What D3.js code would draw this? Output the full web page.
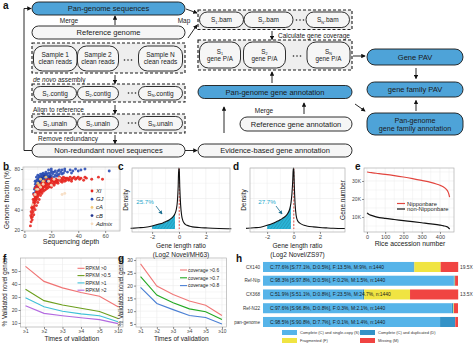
<!DOCTYPE html>
<html><head><meta charset="utf-8">
<script src="https://cdn.jsdelivr.net/npm/d3@7"></script>
<style>body{margin:0;background:#fff}svg{display:block}</style>
</head><body><svg id="c" width="474" height="348"></svg>
<script>
// ---------------- DATA ----------------
// b: genome fraction vs sequencing depth, [depth, fraction]
const bXI = [[4.5,24],[5,28],[5.2,32],[5.5,36],[5.8,30],[6,40],[6.2,44],[5.4,42],[6.5,38],[6.8,46],[7,48],[7.2,42],[7.5,50],[7.8,53],[8,47],[8.2,55],[8.5,52],[8.8,57],[9,50],[9.2,58],[9.5,55],[9.8,60],[10,53],[10.2,58],[10.5,61],[10.8,56],[11,62],[11.2,59],[11.5,63],[11.8,57],[12,61],[12.3,64],[12.6,60],[13,63],[13.3,66],[13.6,61],[14,64],[14.3,62],[14.6,66],[15,63],[15.3,67],[15.6,64],[16,66],[16.4,62],[16.8,67],[17,64],[17.5,68],[18,65],[18.5,67],[19,63],[19.5,68],[20,66],[20.5,69],[21,65],[21.5,68],[22,67],[22.5,69],[23,66],[23.5,70],[24,68],[24.5,67],[25,69],[26,70],[27,68],[28,70],[29,69],[30,71],[31,69],[32,71],[33,70],[34,72],[35,70],[36,71],[37,72],[38,70],[39,71],[40,72],[41,70],[42,71],[44,69],[46,71],[50,70],[55,72],[58,70],[7,35],[8,40],[9,44],[10,47],[11,50],[12,54],[13,56],[14,58],[15,59],[16,60],[17,61],[18,62],[6,33],[7.5,44],[8.5,49],[9.5,52],[10.5,55],[11.5,58],[12.5,58],[13.5,60],[20,62],[22,64],[25,66],[28,67],[8,61],[9,63],[10,64],[6.5,50],[7,55],[5,38],[4.8,34],[12,66],[14,68],[16,69],[18,70],[30,68],[35,68],[45,72],[20,71],[26,72],[19,66],[21,70],[23,68],[27,71],[29,72],[31,71],[33,69],[15,65],[17,66],[13,62],[11,60],[9,56],[8,51],[7,46],[6,42]];
const bGJ = [[7,56],[7.5,60],[8,62],[8.2,65],[8.5,58],[8.8,67],[9,63],[9.3,69],[9.6,66],[10,70],[10.3,64],[10.6,68],[11,71],[11.3,67],[11.6,72],[12,69],[12.3,73],[12.6,70],[13,72],[13.3,68],[13.6,74],[14,71],[14.4,73],[14.8,70],[15,75],[15.5,72],[16,74],[16.5,71],[17,75],[17.5,73],[18,76],[18.5,72],[19,74],[19.5,76],[20,73],[21,75],[22,77],[23,74],[24,76],[25,78],[26,75],[27,77],[28,79],[29,76],[30,78],[32,77],[34,79],[36,78],[38,80],[40,78],[42,79],[45,80],[63,78],[9,72],[10,74],[11,65],[12,67],[13,66],[14,69],[15,68],[16,70],[17,70],[18,71],[12,75],[14,76],[16,77],[20,78],[22,72],[24,73],[10.5,61],[9.8,59],[8,68],[11,69],[13,70],[15,71],[19,70],[25,74],[28,75],[30,80],[35,76],[20,80],[18,79],[10,66],[11,73],[12,71],[13,75],[14,74],[16,75],[17,72],[21,77],[23,78],[26,79]];
const bCA = [[10,66],[12,70],[14,68],[9,60],[16,72],[11,64]];
const bCB = [[13,71],[15,73],[17,68],[11,67],[19,72]];
const bAdmix = [[8,55],[10,60],[12,62],[14,65],[18,68],[22,70],[26,71],[30,56],[28,55],[6,45],[20,64]];
const bGroups = ["XI","GJ","cA","cB","Admix"];
const bTicksX = [0,20,40,60], bTicksY = [20,40,60,80];

// c, d: density of gene length ratio
const ratioX = [-3.6,-3,-2.5,-2,-1.5,-1.2,-1,-0.8,-0.6,-0.45,-0.3,-0.2,-0.12,-0.06,-0.02,0.02,0.06,0.12,0.2,0.3,0.45,0.6,0.8,1,1.5,2,2.5,3,3.9];
const densMH63 = [0.01,0.02,0.03,0.05,0.08,0.1,0.12,0.14,0.17,0.2,0.25,0.32,0.45,0.7,1.0,0.97,0.68,0.4,0.22,0.13,0.08,0.06,0.045,0.035,0.025,0.018,0.012,0.008,0.005];
const densZS97 = [0.01,0.02,0.03,0.06,0.1,0.13,0.15,0.18,0.21,0.25,0.32,0.42,0.58,0.8,1.0,0.97,0.7,0.4,0.22,0.14,0.1,0.08,0.06,0.05,0.035,0.025,0.018,0.012,0.008];
const ratioTicks = [-2,0,2];

// e: gene numbers by accession
const eNip = [[1,35000],[25,34600],[50,34300],[100,33700],[150,33000],[200,32200],[250,31300],[300,30300],[350,29200],[380,28300],[400,27600],[420,26600],[435,25400],[445,23800],[450,22300],[453,21000]];
const eNonNip = [[1,12300],[10,11500],[25,10900],[50,10100],[100,9200],[150,8600],[200,8000],[250,7400],[300,6800],[350,6200],[400,5500],[420,5100],[435,4700],[445,4200],[450,3700],[453,3300]];
const eTicksX = [0,100,200,300,400], eTicksY = [10000,20000,30000];

// f, g: validation
const valTimes = ["≥1","≥2","≥3","≥4","≥5","≥10"];
const rpkm0 = [53.5,42,37,33.5,30.5,22.5];
const rpkm05 = [36,27.2,23.8,21.3,18.8,13.5];
const rpkm1 = [29.5,22.5,19,17,15.5,11];
const rpkm2 = [23.3,17.4,15.6,14,12.6,9.5];
const rpkmNames = ["RPKM >0","RPKM >0.5","RPKM >1","RPKM >2"];
const cov06 = [28.5,19.8,16.5,14,12.3,8.3];
const cov07 = [23.5,16.3,13.3,10.9,9.8,6.7];
const cov08 = [19.3,13,10.6,8.3,7.5,5];
const covNames = ["coverage >0.6","coverage >0.7","coverage >0.8"];
const fTicksY = [10,20,30,40,50], gTicksY = [5,10,15,20,25,30];

// h: BUSCO
const buscoNames = ["CX140","Ref-Nip","CX368","Ref-N22","pan-genome"];
const buscoS = [77.1,97.8,51.1,96.8,90.8];
const buscoD = [0.5,0.5,0.8,0.8,7.7];
const buscoF = [13.5,0.2,23.5,0.3,0.1];
const buscoM = [9,1.5,24.7,2.1,1.4];
const buscoC = [77.6,98.3,51.9,97.6,98.5];
const buscoDepth = ["19.5X","","13.5X","",""];
const buscoLegend = ["Complete (C) and single-copy (S)","Complete (C) and duplicated (D)","Fragmented (F)","Missing (M)"];

// ---------------- DRAW ----------------
const F = "Liberation Sans, Arial, Helvetica, sans-serif";
const svg = d3.select("#c").attr("font-family", F);
svg.append("rect").attr("width",474).attr("height",348).attr("fill","#fff");
const defs = svg.append("defs");
defs.append("marker").attr("id","arr").attr("viewBox","0 0 6 6").attr("refX",5).attr("refY",3)
  .attr("markerWidth",4.5).attr("markerHeight",4.5).attr("markerUnits","userSpaceOnUse").attr("orient","auto")
  .append("path").attr("d","M0,0 L6,3 L0,6 z").attr("fill","#111");
defs.append("marker").attr("id","arrC").attr("viewBox","0 0 6 6").attr("refX",5).attr("refY",3)
  .attr("markerWidth",4).attr("markerHeight",4).attr("markerUnits","userSpaceOnUse").attr("orient","auto")
  .append("path").attr("d","M0,0 L6,3 L0,6 z").attr("fill","#1d6f90");
const pat = defs.append("pattern").attr("id","hatch").attr("patternUnits","userSpaceOnUse").attr("width",2.5).attr("height",2.5).attr("patternTransform","rotate(35)");
pat.append("line").attr("x1",0).attr("y1",0).attr("x2",0).attr("y2",2.5).attr("stroke","#1b5f80").attr("stroke-width",0.5);

function letter(t,x,y){ svg.append("text").attr("x",x).attr("y",y).attr("font-size",10).attr("font-weight","bold").attr("fill","#111").text(t); }

// ---- a: flowchart ----
const fc = svg.append("g");
const BLUE = "#4ea3d8", LIGHT = "#f6f6f6";
function rich(t, ln, fs){
  if (typeof ln === "string") { t.text(ln); return; }
  let sub=false;
  ln.forEach(seg=>{
    if (seg.sub!==undefined){ t.append("tspan").attr("font-size",fs*0.6).attr("dy",fs*0.22).text(seg.sub); sub=true; }
    else { const ts=t.append("tspan").text(seg.t); if(sub){ ts.attr("dy",-fs*0.22); sub=false; } }
  });
}
function box(x,y,w,h,lines,fill,rx,fs){
  fc.append("rect").attr("x",x).attr("y",y).attr("width",w).attr("height",h).attr("rx",rx).attr("ry",rx)
    .attr("fill",fill).attr("stroke","#1a1a1a").attr("stroke-width",0.9);
  const n=lines.length, lh=fs*1.12;
  lines.forEach((ln,i)=>{
    const t=fc.append("text").attr("x",x+w/2).attr("y",y+h/2+(i-(n-1)/2)*lh+fs*0.36)
      .attr("text-anchor","middle").attr("font-size",fs).attr("fill","#1a1a1a");
    rich(t,ln,fs);
  });
}
function dashed(x,y,w,h){
  fc.append("rect").attr("x",x).attr("y",y).attr("width",w).attr("height",h).attr("fill","#eeeeee")
    .attr("stroke","#1a1a1a").attr("stroke-width",1.1).attr("stroke-dasharray","3,2");
}
function arrow(x1,y1,x2,y2){
  fc.append("line").attr("x1",x1).attr("y1",y1).attr("x2",x2).attr("y2",y2).attr("stroke","#111").attr("stroke-width",0.9).attr("marker-end","url(#arr)");
}
function label(x,y,txt,anchor,fs){
  const t=fc.append("text").attr("x",x).attr("y",y).attr("font-size",fs||6.5).attr("text-anchor",anchor||"start").attr("fill","#1a1a1a");
  if (typeof txt==="string") t.text(txt); else txt.forEach(s=>{ const ts=t.append("tspan").text(s.t); if(s.i) ts.attr("font-style","italic"); });
}
function dots(x,y){ [-3.5,0,3.5].forEach(d=>fc.append("circle").attr("cx",x+d).attr("cy",y).attr("r",0.8).attr("fill","#222")); }
const S = (n,rest)=>[{t:"S"},{sub:n},{t:rest}];

letter("a",3,9);
box(32,2,153,13,["Pan-genome sequences"],BLUE,6.5,7.5);
label(69,22.5,"Merge","middle");
arrow(115,25,115,16);
label(184,22.5,"Map","middle");
box(32,26,153,13,["Reference genome"],LIGHT,6.5,7.5);
dashed(32,43,153,30);
box(33.5,46,43.5,25,["Sample 1","clean reads"],LIGHT,9,6.5);
box(77.5,46,41,25,["Sample 2","clean reads"],LIGHT,9,6.5);
dots(128,60);
box(138.5,46,44,25,["Sample N","clean reads"],LIGHT,9,6.5);
label(33,82,[{t:"de novo",i:true},{t:" assembly"}]);
arrow(115,75,115,83.5);
dashed(32,84,153,18);
box(33.5,86.5,43,13.5,[S("1",".contig")],LIGHT,6.75,6.5);
box(77.5,86.5,41,13.5,[S("2",".contig")],LIGHT,6.75,6.5);
dots(132,93);
box(138.5,86.5,44,13.5,[S("N",".contig")],LIGHT,6.75,6.5);
label(33,111.5,"Align to reference");
arrow(115,105,115,113.5);
dashed(32,114,153,19);
box(33.5,116.5,43,13.5,[S("1",".unaln")],LIGHT,6.75,6.5);
box(77.5,116.5,41,13.5,[S("2",".unaln")],LIGHT,6.75,6.5);
dots(132,123);
box(138.5,116.5,44,13.5,[S("N",".unaln")],LIGHT,6.75,6.5);
label(38,141,"Remove redundancy");
arrow(115,135,115,143.5);
box(32,144,153,13,["Non-redundant novel sequences"],LIGHT,6.5,7.5);
fc.append("path").attr("d","M32,150.5 H24 V8.5 H31").attr("fill","none").attr("stroke","#111").attr("stroke-width",0.9).attr("marker-end","url(#arr)");
arrow(185,150.5,197,150.5);
arrow(186,9,197,13);
arrow(188,38,197,25);

dashed(198,10,154,19.5);
box(199.5,12,44,15.5,[S("1",".bam")],LIGHT,7.7,6.5);
box(244,12,49,15.5,[S("2",".bam")],LIGHT,7.7,6.5);
dots(300,20);
box(306,12,43.5,15.5,[S("N",".bam")],LIGHT,7.7,6.5);
arrow(272,31,272,39.5);
label(278,37.5,"Calculate gene coverage");
dashed(198,40,154,30);
box(199.5,42,41,26,[S("1",""),"gene P/A"],LIGHT,9,6.3);
box(243.5,42,42,26,[S("2",""),"gene P/A"],LIGHT,9,6.3);
dots(297,56);
box(307,42,43,26,[S("N",""),"gene P/A"],LIGHT,9,6.3);
arrow(353,56,365,56);
box(367,49,96,16,["Gene PAV"],BLUE,8,7.5);
arrow(416,68,416,78.5);
box(367,82,96,15,["gene family PAV"],BLUE,7.5,7.5);
arrow(416,111,416,100.5);
box(367,113,96,22,["Pan-genome","gene family annotation"],BLUE,8,7.2);
arrow(272,83,272,72);
box(198,85.5,154,13,["Pan-genome gene annotation"],BLUE,6.5,7.5);
label(264,112.5,"Merge","middle");
arrow(304,114,304,103);
box(240,117,112,14,["Reference gene annotation"],LIGHT,7,7.5);
arrow(355,104,365,111);
box(198,144,154,13,["Evidence-based gene annotation"],LIGHT,6.5,7.5);
arrow(224,133,224,107);

// ---- generic helpers for plots ----
const GRID="#ebebeb", FRAME="#b0b0b0", AX="#444";
function frame(g,x0,y0,x1,y1){ g.append("rect").attr("x",x0).attr("y",y0).attr("width",x1-x0).attr("height",y1-y0).attr("fill","none").attr("stroke",FRAME).attr("stroke-width",0.7); }
function vgrid(g,xs,y0,y1,w){ xs.forEach(x=>g.append("line").attr("x1",x).attr("x2",x).attr("y1",y0).attr("y2",y1).attr("stroke",GRID).attr("stroke-width",w||0.6)); }
function hgrid(g,ys,x0,x1,w){ ys.forEach(y=>g.append("line").attr("y1",y).attr("y2",y).attr("x1",x0).attr("x2",x1).attr("stroke",GRID).attr("stroke-width",w||0.6)); }
function styl(s,fs){ s.select(".domain").remove(); s.attr("font-family",F).attr("font-size",fs); s.selectAll("line").attr("stroke",AX).attr("stroke-width",0.6); s.selectAll("text").attr("fill",AX); return s; }
function axB(g,scale,y,vals,fmt,fs){ const a=d3.axisBottom(scale).tickSize(2).tickPadding(1); if(vals) a.tickValues(vals); if(fmt) a.tickFormat(fmt); return styl(g.append("g").attr("transform",`translate(0,${y})`).call(a),fs); }
function axL(g,scale,x,vals,fmt,fs){ const a=d3.axisLeft(scale).tickSize(2).tickPadding(1); if(vals) a.tickValues(vals); if(fmt) a.tickFormat(fmt); return styl(g.append("g").attr("transform",`translate(${x},0)`).call(a),fs); }
function txt(g,x,y,t,fs,anchor,rot,color){ const e=g.append("text").attr("x",x).attr("y",y).attr("font-size",fs).attr("text-anchor",anchor||"middle").attr("fill",color||"#222").text(t); if(rot) e.attr("transform",`rotate(${rot},${x},${y})`); return e; }
const minus = d=> d<0 ? "-"+Math.abs(d) : String(d);

// ---- b ----
letter("b",3,170);
const gb = svg.append("g");
const bx = d3.scaleLinear().domain([-1,71]).range([23,120]);
const by = d3.scaleLinear().domain([19,82]).range([231,167]);
vgrid(gb,[10,30,50,70].map(bx),167,231,0.4); hgrid(gb,[30,50,70].map(by),23,120,0.4);
vgrid(gb,bTicksX.map(bx),167,231); hgrid(gb,bTicksY.map(by),23,120);
const bCol = {XI:"#e5261f",GJ:"#2c4fb4",cA:"#f2c879",cB:"#23358f",Admix:"#f6dcc0"};
const bData = {XI:bXI,GJ:bGJ,cA:bCA,cB:bCB,Admix:bAdmix};
["GJ","XI","cB","cA","Admix"].forEach(k=>{
  gb.selectAll(null).data(bData[k]).enter().append("circle").attr("cx",d=>bx(d[0])).attr("cy",d=>by(d[1])).attr("r",1.45).attr("fill",bCol[k]).attr("fill-opacity",0.9);
});
frame(gb,23,167,120,231);
axB(gb,bx,231,bTicksX,null,5.5);
axL(gb,by,23,bTicksY,null,5);
txt(gb,71,244,"Sequencing depth",7);
txt(gb,9,199,"Genome fraction (%)",6.5,"middle",-90);
bGroups.forEach((k,i)=>{
  const y=191+i*8.2;
  gb.append("circle").attr("cx",92).attr("cy",y).attr("r",1.4).attr("fill",bCol[k]);
  txt(gb,96,y+2,k,5.8,"start").attr("font-style","italic");
});

// ---- c, d density ----
function density(x0,x1,dom,dens,lo,hi,pct,px,lab,arrowPts){
  const g = svg.append("g");
  const xs = d3.scaleLinear().domain(dom).range([x0,x1]);
  const ys = d3.scaleLinear().domain([0,1]).range([229,168]);
  vgrid(g,[-3,-1,1,3].map(xs),168,232,0.4); hgrid(g,[0.25,0.75].map(ys),x0,x1,0.4);
  vgrid(g,ratioTicks.map(xs),168,232); hgrid(g,[0,0.5,1].map(ys),x0,x1);
  const pts = ratioX.map((x,i)=>[x,dens[i]]);
  const sub = pts.filter(p=>p[0]>=lo && p[0]<=hi);
  const area = d3.area().x(d=>xs(d[0])).y0(ys(0)).y1(d=>ys(d[1])).curve(d3.curveMonotoneX);
  g.append("path").attr("d",area(sub)).attr("fill","#2ab4d6");
  g.append("path").attr("d",area(sub)).attr("fill","url(#hatch)");
  g.append("line").attr("x1",xs(0.02)).attr("x2",xs(0.02)).attr("y1",168).attr("y2",ys(0)).attr("stroke","#e3564f").attr("stroke-width",1).attr("stroke-dasharray","2,1.5");
  g.append("path").attr("d",d3.line().x(d=>xs(d[0])).y(d=>ys(d[1])).curve(d3.curveMonotoneX)(pts)).attr("fill","none").attr("stroke","#111").attr("stroke-width",1.1);
  frame(g,x0,168,x1,232);
  axB(g,xs,232,ratioTicks,minus,5.8);
  txt(g,px,204,pct,6.2,"middle",0,"#29a9cc");
  g.append("line").attr("x1",arrowPts[0]).attr("y1",arrowPts[1]).attr("x2",arrowPts[2]).attr("y2",arrowPts[3]).attr("stroke","#1d6f90").attr("stroke-width",0.8).attr("marker-end","url(#arrC)");
  const cx=(x0+x1)/2;
  txt(g,x0-4,200,"Density",6.5,"middle",-90);
  txt(g,cx,247.5,"Gene length ratio",6.5);
  txt(g,cx,256.5,lab,6.5);
}
letter("c",118,170);
density(132,230,[-3.5,3.8],densMH63,-2,-0.3,"25.7%",145,"(Log2 Novel/MH63)",[156,206,162,214]);
letter("d",233,170);
density(250,345,[-3.3,3.9],densZS97,-2,-0.2,"27.7%",267,"(Log2 Novel/ZS97)",[276,206,282,214]);

// ---- e ----
letter("e",355,170);
const ge = svg.append("g");
const ex = d3.scaleLinear().domain([-16,477]).range([364,454]);
const ey = d3.scaleLinear().domain([1670,37200]).range([232,168]);
vgrid(ge,[50,150,250,350,450].map(ex),168,232,0.4); hgrid(ge,[5000,15000,25000,35000].map(ey),364,454,0.4);
vgrid(ge,eTicksX.map(ex),168,232); hgrid(ge,eTicksY.map(ey),364,454);
const eline = d3.line().x(d=>ex(d[0])).y(d=>ey(d[1])).curve(d3.curveMonotoneX);
ge.append("path").attr("d",eline(eNip)).attr("fill","none").attr("stroke","#e2463f").attr("stroke-width",1.2);
ge.append("path").attr("d",eline(eNonNip)).attr("fill","none").attr("stroke","#111").attr("stroke-width",1.2);
frame(ge,364,168,454,232);
axB(ge,ex,232,eTicksX,null,5.5);
axL(ge,ey,364,eTicksY,d=>d/1000+"K",5);
txt(ge,410,246,"Rice accession number",6.8);
txt(ge,345,200,"Gene number",6.5,"middle",-90);
[["Nipponbare","#e2463f",203.5],["non-Nipponbare","#111",209]].forEach(([n,c,y])=>{
  ge.append("line").attr("x1",397).attr("x2",405).attr("y1",y).attr("y2",y).attr("stroke",c).attr("stroke-width",1.2);
  txt(ge,407,y+2,n,5.8,"start");
});

// ---- f, g ----
function linePanel(x0,x1,dom,ticks,series,names,colors,legX,legY0,legDY,ylab,ylabX,pad){
  const g = svg.append("g");
  const xs = d3.scalePoint().domain(valTimes).range([x0,x1]).padding(pad);
  const ys = d3.scaleLinear().domain(dom).range([327,258]);
  const step = ticks[1]-ticks[0];
  hgrid(g,ticks.map(t=>ys(t+step/2)).filter(y=>y>258),x0,x1,0.4);
  vgrid(g,valTimes.map(xs),258,327); hgrid(g,ticks.map(ys),x0,x1);
  const ln = d3.line().x((d,i)=>xs(valTimes[i])).y(d=>ys(d));
  series.forEach((s,i)=>g.append("path").attr("d",ln(s)).attr("fill","none").attr("stroke",colors[i]).attr("stroke-width",1.1));
  frame(g,x0,258,x1,327);
  axB(g,xs,327,null,null,4.8);
  axL(g,ys,x0,ticks,null,5.2);
  txt(g,(x0+x1)/2,341,"Times of validation",6.6);
  txt(g,ylabX,292,ylab,6.3,"middle",-90);
  names.forEach((n,i)=>{
    const y=legY0+i*legDY;
    g.append("line").attr("x1",legX).attr("x2",legX+7).attr("y1",y).attr("y2",y).attr("stroke",colors[i]).attr("stroke-width",1.1);
    txt(g,legX+8,y+1.7,n,4.9,"start");
  });
}
letter("f",3,262);
linePanel(20.5,123,[6.9,60],fTicksY,[rpkm0,rpkm05,rpkm1,rpkm2],rpkmNames,["#f07474","#6b9e1c","#3fc0d8","#b36ae0"],77.5,268.3,7.3,"% Validated novel genes",7,0.27);
letter("g",118,262);
linePanel(136,226.5,[3.8,30.8],gTicksY,[cov06,cov07,cov08],covNames,["#f07878","#22a822","#4a7fd4"],180,270,7.8,"% Validated novel genes",123,0.28);

// ---- h ----
letter("h",236,262);
const gh = svg.append("g");
const hy = d3.scaleBand().domain(buscoNames).range([260.1,328.85]).paddingInner(0.27).paddingOuter(0.135);
const hx = d3.scaleLinear().domain([0,100]).range([263,458]);
const hCol = ["#56b4e9","#3492c7","#f0e442","#f04442"];
const stacks = buscoNames.map((n,i)=>[buscoS[i],buscoD[i],buscoF[i],buscoM[i]]);
stacks.forEach((vals,i)=>{
  let acc=0;
  vals.forEach((v,j)=>{
    gh.append("rect").attr("x",hx(acc)).attr("y",hy(buscoNames[i])).attr("width",hx(acc+v)-hx(acc)).attr("height",hy.bandwidth()).attr("fill",hCol[j]);
    acc+=v;
  });
  const yc = hy(buscoNames[i])+hy.bandwidth()/2;
  txt(gh,260,yc+1.6,buscoNames[i],4.6,"end","", "#333");
  txt(gh,270,yc+1.7,`C:${buscoC[i]}% [S:${buscoS[i]}%, D:${buscoD[i]}%], F:${buscoF[i]}%, M:${buscoM[i]}%, n:1440`,4.9,"start","","#1a1a1a");
  if (buscoDepth[i]) txt(gh,460,yc+1.7,buscoDepth[i],4.9,"start","","#333");
});
[[282,332.5],[360,332.5],[282,340.5],[360,340.5]].forEach(([x,y],i)=>{
  gh.append("rect").attr("x",x).attr("y",y-2.5).attr("width",15).attr("height",5).attr("fill",hCol[i]);
  txt(gh,x+18,y+1.4,buscoLegend[i],4,"start","","#333");
});
</script></body></html>
